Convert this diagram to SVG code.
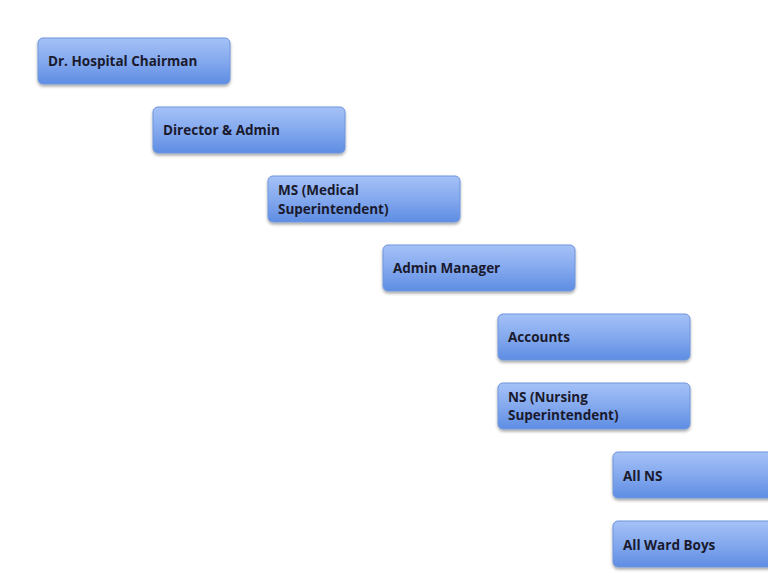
<svg xmlns="http://www.w3.org/2000/svg" width="768" height="576" viewBox="0 0 768 576">
<defs>
<linearGradient id="g" x1="0" y1="0" x2="0" y2="1">
<stop offset="0" stop-color="#a5c1f7"/>
<stop offset="0.5" stop-color="#84a9ee"/>
<stop offset="1" stop-color="#5e8de3"/>
</linearGradient>
<filter id="s" x="-10%" y="-20%" width="120%" height="150%">
<feDropShadow dx="0" dy="2" stdDeviation="1.5" flood-color="#000" flood-opacity="0.35"/>
</filter>
</defs>
<style>
.b{fill:url(#g);stroke:#6f95dc;stroke-width:1;filter:url(#s)}
.t{font-family:"Open Sans","DejaVu Sans",sans-serif;font-size:13.5px;font-weight:bold;fill:#1a1a2e}
</style>
<rect width="768" height="576" fill="#fff"/>
<g id="connectors"/>
<g id="n1"><rect class="b" x="38" y="38" width="192" height="46" rx="5"/><text class="t" x="48" y="66">Dr. Hospital Chairman</text></g>
<g id="n2"><rect class="b" x="153" y="107" width="192" height="46" rx="5"/><text class="t" x="163" y="135">Director &amp; Admin</text></g>
<g id="n3"><rect class="b" x="268" y="176" width="192" height="46" rx="5"/><text class="t" x="278" y="195">MS (Medical</text><text class="t" x="278" y="214">Superintendent)</text></g>
<g id="n4"><rect class="b" x="383" y="245" width="192" height="46" rx="5"/><text class="t" x="393" y="273">Admin Manager</text></g>
<g id="n5"><rect class="b" x="498" y="314" width="192" height="46" rx="5"/><text class="t" x="508" y="342">Accounts</text></g>
<g id="n6"><rect class="b" x="498" y="383" width="192" height="46" rx="5"/><text class="t" x="508" y="402">NS (Nursing</text><text class="t" x="508" y="420">Superintendent)</text></g>
<g id="n7"><rect class="b" x="613" y="452" width="192" height="46" rx="5"/><text class="t" x="623" y="481">All NS</text></g>
<g id="n8"><rect class="b" x="613" y="521" width="192" height="46" rx="5"/><text class="t" x="623" y="550">All Ward Boys</text></g>
</svg>
